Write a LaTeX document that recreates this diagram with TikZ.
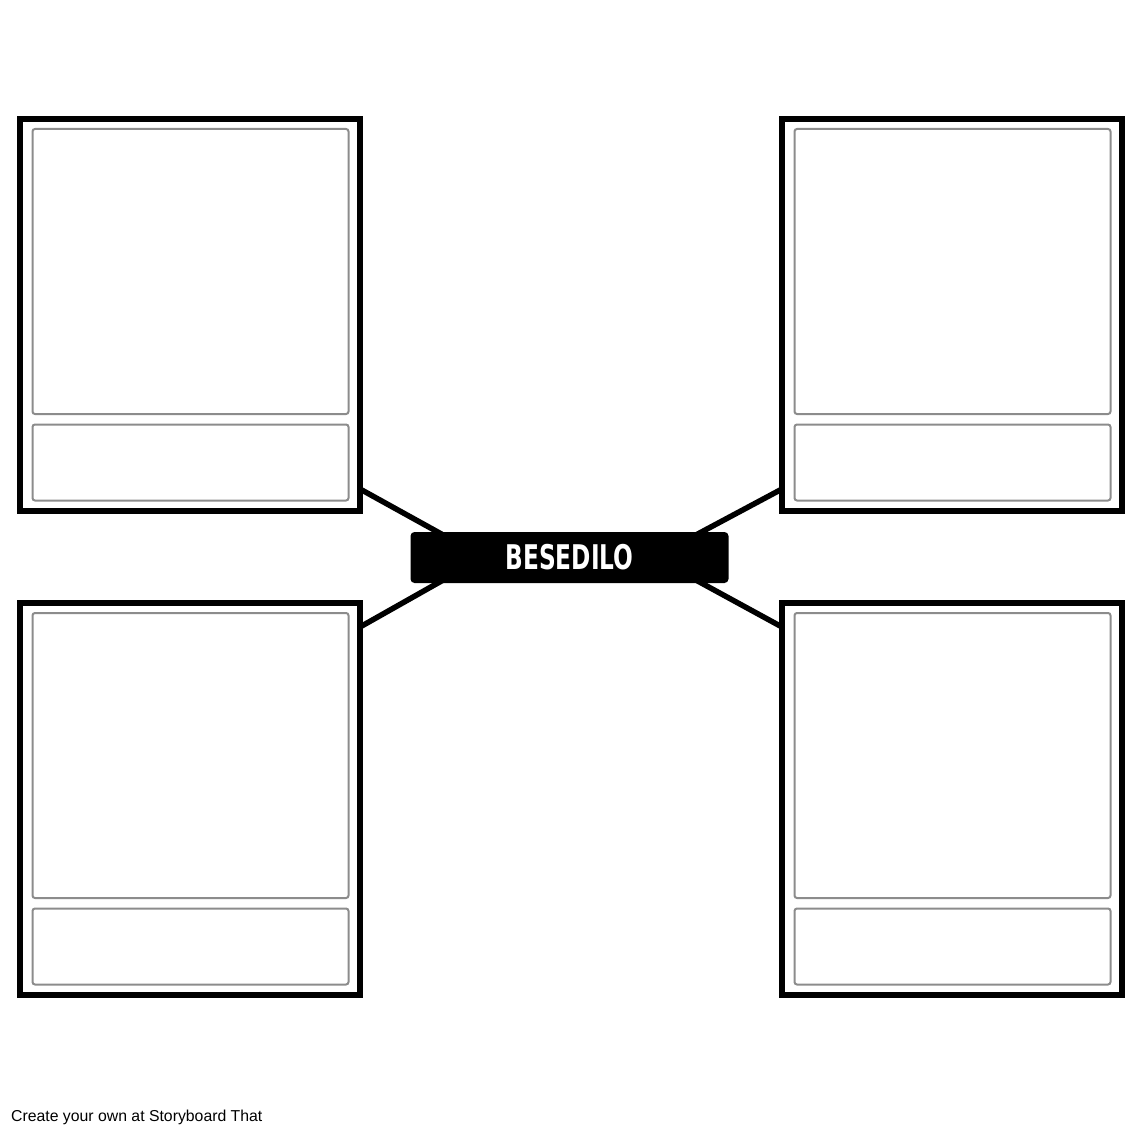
\documentclass[tikz,border=0pt]{standalone}
\usepackage{fontspec}
\setmainfont{Liberation Sans}
\newfontfamily\labelfont{DejaVu Sans Condensed}
\begin{document}
\begin{tikzpicture}[x=1pt,y=-1pt,
  outerbox/.style={draw=black,line width=5.5pt,fill=white,minimum width=340pt,minimum height=392pt,inner sep=0pt,outer sep=0pt,anchor=north west},
  picbox/.style={draw=black!45,line width=2pt,rounded corners=2.5pt,minimum width=316pt,minimum height=285pt,inner sep=0pt,outer sep=0pt,anchor=north west},
  capbox/.style={draw=black!45,line width=2pt,rounded corners=2.5pt,minimum width=316pt,minimum height=76pt,inner sep=0pt,outer sep=0pt,anchor=north west},
  link/.style={draw=black,line width=5.5pt},
  titlebox/.style={fill=black,rounded corners=4pt,minimum width=318pt,minimum height=51pt,inner sep=0pt,text=white,font=\labelfont\bfseries\fontsize{34}{38}\selectfont}
]
\useasboundingbox (0,0) rectangle (1143,1134);
\fill[white] (0,0) rectangle (1143,1134);
% connectors
\coordinate (c1a) at (360,489);
\coordinate (c1b) at (445,536);
\coordinate (c2a) at (782,489);
\coordinate (c2b) at (694,536);
\coordinate (c3a) at (360,627);
\coordinate (c3b) at (445,579);
\coordinate (c4a) at (782,627);
\coordinate (c4b) at (694,579);
\draw[link] (c1a) -- (c1b);
\draw[link] (c2a) -- (c2b);
\draw[link] (c3a) -- (c3b);
\draw[link] (c4a) -- (c4b);
% boxes
\node[outerbox] (tl) at (20,119) {};
\node[outerbox] (tr) at (782,119) {};
\node[outerbox] (bl) at (20,603) {};
\node[outerbox] (br) at (782,603) {};
\node[picbox] (tlp) at (32.5,129) {};
\node[capbox] (tlc) at (32.5,424.5) {};
\node[picbox] (trp) at (794.5,129) {};
\node[capbox] (trc) at (794.5,424.5) {};
\node[picbox] (blp) at (32.5,613) {};
\node[capbox] (blc) at (32.5,908.5) {};
\node[picbox] (brp) at (794.5,613) {};
\node[capbox] (brc) at (794.5,908.5) {};
% title
\node[titlebox] (title) at (569.5,557.5) {\scalebox{0.76}[1]{BESEDILO}};
% footer
\node[anchor=base west,inner sep=0pt,font=\fontsize{15.8}{18}\selectfont] (foot) at (11,1121) {Create your own at Storyboard That};
\end{tikzpicture}
\end{document}
